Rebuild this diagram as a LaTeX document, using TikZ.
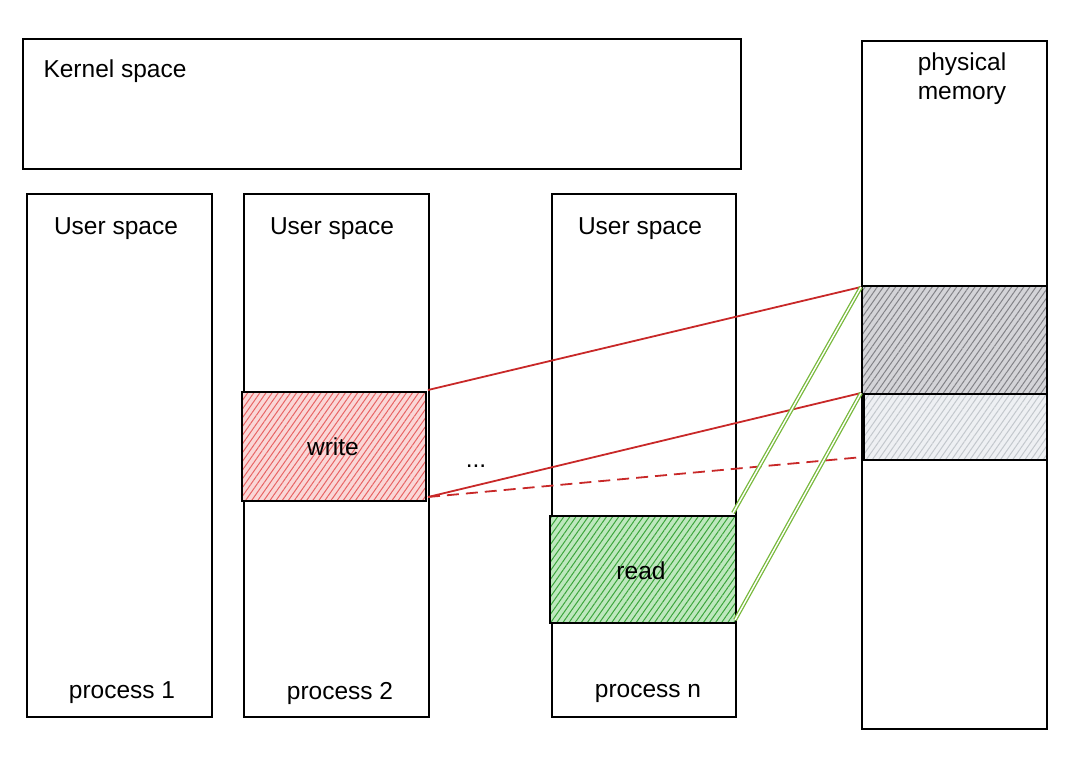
\documentclass[tikz,border=0pt]{standalone}
\usepackage{fontspec}
\setmainfont{Liberation Sans}
\usetikzlibrary{patterns.meta}
\definecolor{hr}{RGB}{232,100,100}
\definecolor{fr}{RGB}{250,215,215}
\definecolor{hg}{RGB}{60,165,60}
\definecolor{fg}{RGB}{190,232,190}
\definecolor{hk}{RGB}{130,130,135}
\definecolor{fk}{RGB}{212,212,216}
\definecolor{hl}{RGB}{195,200,205}
\definecolor{fl}{RGB}{238,240,243}
\definecolor{lr}{RGB}{200,40,40}
\definecolor{lg}{RGB}{120,185,60}
\begin{document}
\begin{tikzpicture}[x=1pt,y=-1pt,
  box/.style={draw=black,line width=1.8pt},
  lbl/.style={font=\fontsize{24.5}{29}\selectfont},
  hatch/.style={line width=1.8pt,postaction={pattern={Lines[angle=55,distance=5pt,line width=1pt]},pattern color=#1},postaction={draw=black,line width=1.8pt}},
  redl/.style={draw=lr,line width=1.8pt},
  grnl/.style={draw=lg,line width=1.3pt,double distance=1.4pt}]
\useasboundingbox (0,0) rectangle (1080,764);
\node[box,minimum width=718pt,minimum height=130pt,anchor=north west] (kernel) at (22,38) {};
\node[lbl,anchor=west] (kt) at (40,71) {Kernel space};
\node[box,minimum width=185pt,minimum height=523pt,anchor=north west] (p1) at (26,193) {};
\node[box,minimum width=185pt,minimum height=523pt,anchor=north west] (p2) at (243,193) {};
\node[box,minimum width=184pt,minimum height=523pt,anchor=north west] (pn) at (551,193) {};
\node[box,minimum width=185pt,minimum height=688pt,anchor=north west] (pm) at (861,40) {};
\node[lbl] (u1) at (116,229) {User space};
\node[lbl] (u2) at (332,229) {User space};
\node[lbl] (un) at (640,229) {User space};
\node[lbl] (l1) at (122,693) {process 1};
\node[lbl] (l2) at (340,693) {process 2};
\node[lbl] (ln) at (648,693) {process n};
\node[lbl,align=center,inner sep=0pt] (pmt) at (962,79) {physical\\memory};
\node[lbl] (dots) at (476,466) {...};
\node[hatch=hr,fill=fr,minimum width=184pt,minimum height=109pt,anchor=north west] (w) at (241,391) {};
\node[lbl] (wt) at (333,447) {write};
\node[hatch=hg,fill=fg,minimum width=186pt,minimum height=107pt,anchor=north west] (r) at (549,515) {};
\node[lbl] (rt) at (641,571) {read};
\node[hatch=hk,fill=fk,minimum width=185pt,minimum height=108pt,anchor=north west] (g1) at (861,285) {};
\node[hatch=hl,fill=fl,minimum width=183pt,minimum height=66pt,anchor=north west] (g2) at (863,393) {};
\coordinate (a1) at (428,390); \coordinate (a2) at (428,497);
\coordinate (b1) at (861,287); \coordinate (b2) at (861,393); \coordinate (b3) at (863,457);
\coordinate (c1) at (733,513); \coordinate (c2) at (735,620);
\draw[redl] (a1) -- (b1);
\draw[redl] (a2) -- (b2);
\draw[redl,dash pattern=on 12pt off 7pt] (a2) -- (b3);
\draw[grnl] (c1) -- (b1);
\draw[grnl] (c2) -- (b2);
\end{tikzpicture}
\end{document}
